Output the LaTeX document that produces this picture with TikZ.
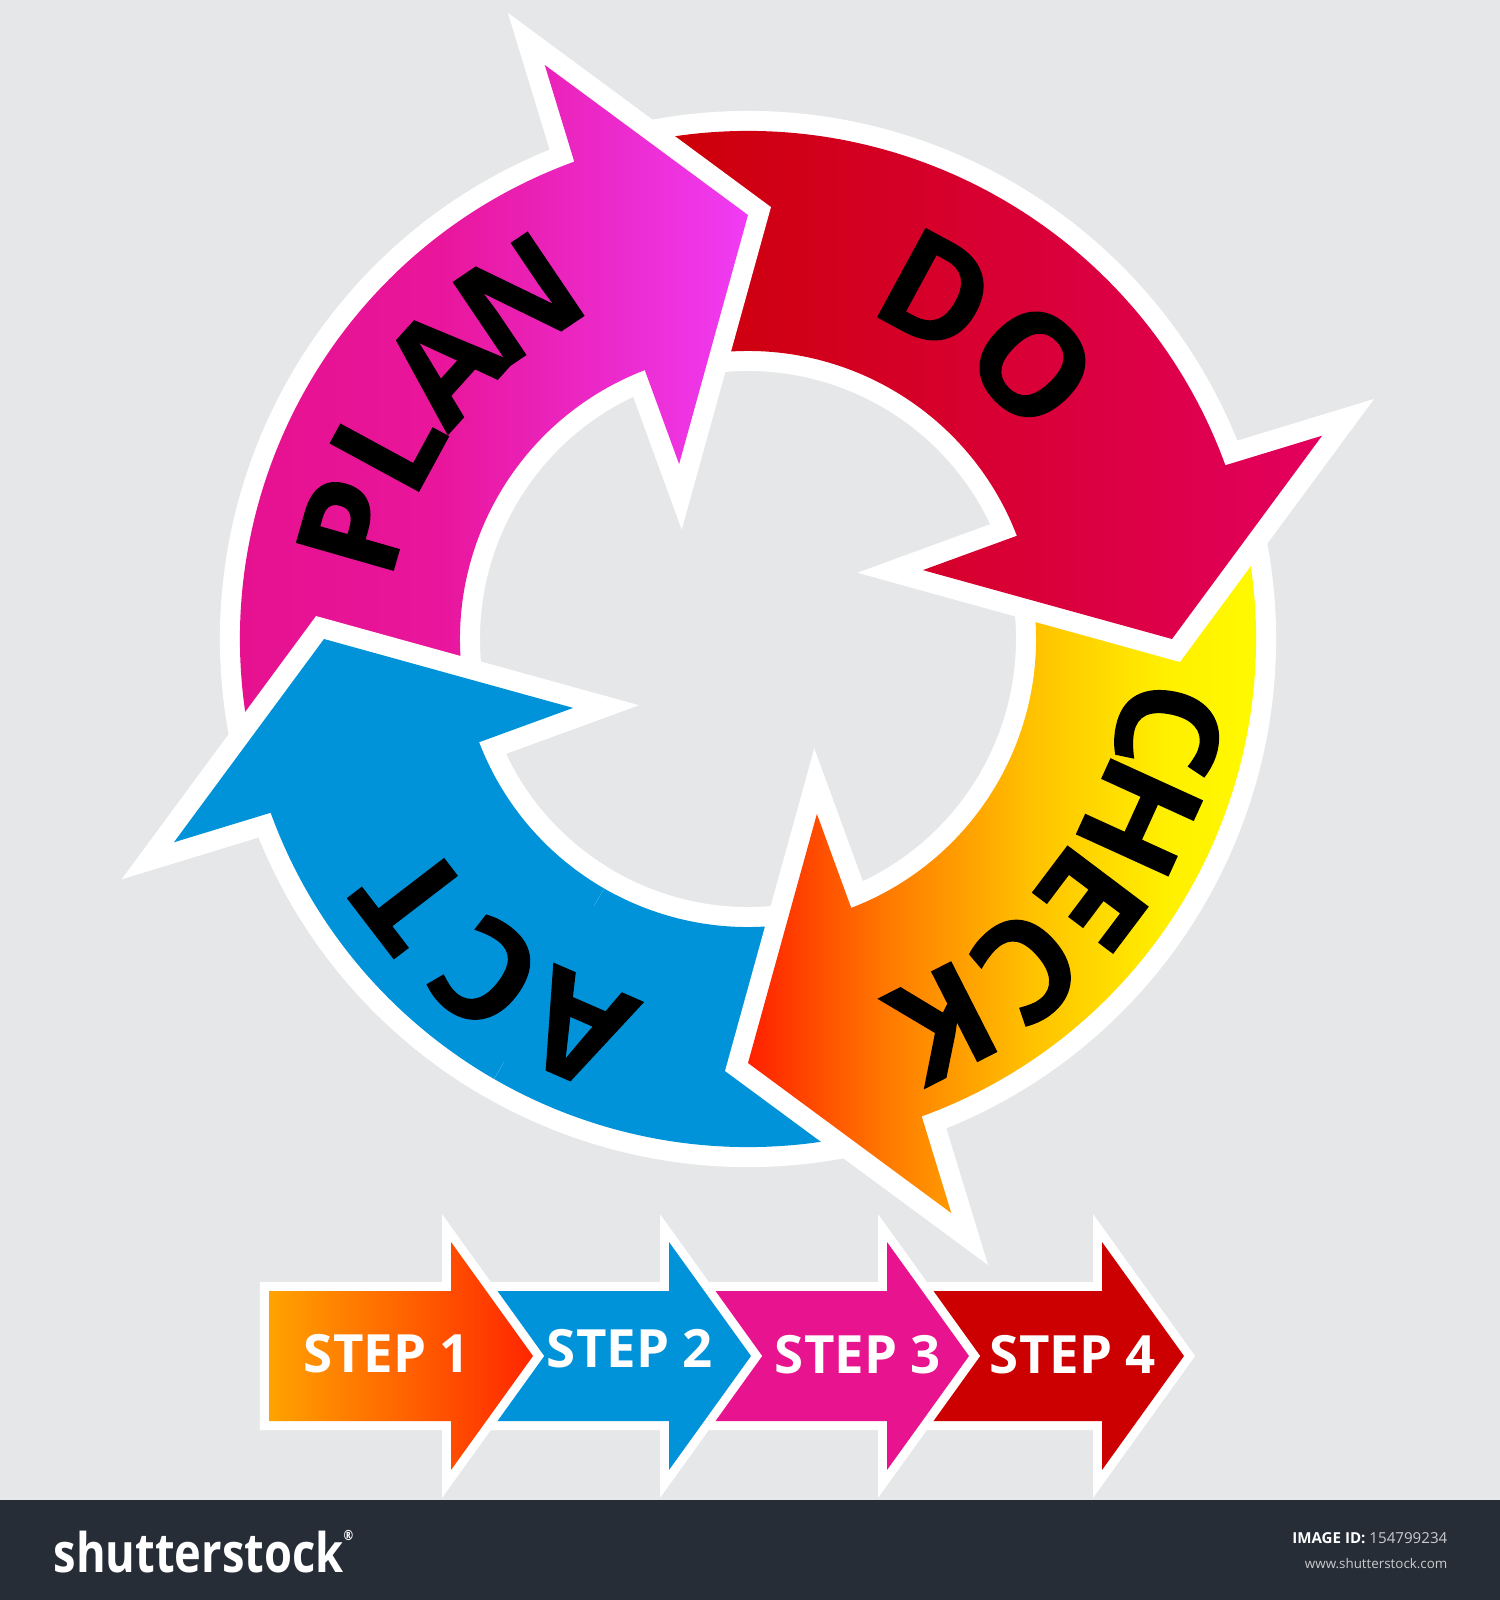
\documentclass[tikz,border=0pt]{standalone}
\usepackage{fontspec}
\setmainfont{Open Sans}
\newfontfamily\ringfam{Open Sans}[BoldFeatures={FakeBold=1}]
\definecolor{backgray}{HTML}{E6E7E8}
\definecolor{footgray}{HTML}{272D37}
\definecolor{footlight}{HTML}{C9CBCE}
\definecolor{planleft}{HTML}{E5108C}
\definecolor{planmid}{HTML}{E9169C}
\definecolor{planhi}{HTML}{EC2DD2}
\definecolor{planright}{HTML}{F03CF5}
\definecolor{doleft}{HTML}{CB0000}
\definecolor{doright}{HTML}{E3005F}
\definecolor{checkleft}{HTML}{FF2000}
\definecolor{checkorange}{HTML}{FF7A00}
\definecolor{checkmid}{HTML}{FFC000}
\definecolor{checkhi}{HTML}{FFF000}
\definecolor{checkright}{HTML}{FFFF00}
\definecolor{actblue}{HTML}{0093D9}
\definecolor{stepleft}{HTML}{FFA300}
\definecolor{stepright}{HTML}{FF2600}
\definecolor{stepmag}{HTML}{E8138E}
\definecolor{stepred}{HTML}{CC0000}
\pgfdeclarehorizontalshading{planshade}{100bp}{color(0bp)=(planleft); color(25bp)=(planleft);
  color(47.5bp)=(planmid); color(65bp)=(planhi); color(75bp)=(planright); color(100bp)=(planright)}
\pgfdeclarehorizontalshading{checkshade}{100bp}{color(0bp)=(checkleft); color(25bp)=(checkleft);
  color(37.5bp)=(checkorange); color(50bp)=(checkmid); color(62.5bp)=(checkhi); color(75bp)=(checkright); color(100bp)=(checkright)}
\newcommand{\ringfont}{\fontsize{40}{40}\selectfont\ringfam\bfseries}
\newcommand{\stepfont}{\fontsize{15}{15}\selectfont\bfseries}

\begin{document}
\begin{tikzpicture}
  [x=0.01cm,y=0.01cm,
   rim/.style={preaction={draw=white,line width=0.4cm,line join=miter}},
   steprim/.style={preaction={draw=white,line width=0.18cm,line join=miter}},
   ringarrow/.style={insert path={(#1+105:508)
     arc[start angle=#1+105,end angle=#1+20,radius=508]
     -- (#1+19.5:609) -- (#1:424) -- (#1+21.5:188) -- (#1+21:288)
     arc[start angle=#1+21,end angle=#1+103,radius=288] -- cycle}},
   steparrow/.style 2 args={insert path={(#1,-1291) -- (#2,-1291) -- (#2,-1242)
     -- ++(82,-114) -- (#2,-1470) -- (#2,-1421) -- (#1,-1421) -- cycle}},
   ringlab/.style={font=\ringfont,anchor=base,inner sep=0pt},
   steplab/.style={font=\stepfont,text=white,inner sep=0pt}]
  \useasboundingbox (0,0) rectangle (1500,-1600);
  \fill[backgray] (0,0) rectangle (1500,-1600);
  \fill[footgray] (0,-1500) rectangle (1500,-1600);

  \begin{scope}[shift={(748,-639)}]
    \fill[rim,actblue,ringarrow=180];
    \shade[rim,shading=checkshade,ringarrow=-90];
    \shade[rim,left color=doleft,right color=doright,ringarrow=0];
    \shade[rim,shading=planshade,ringarrow=90];
    \begin{scope}
      \clip (0,0) -- (150:800) -- (195:800) -- (240:800) -- cycle;
      \fill[rim,actblue,ringarrow=180];
    \end{scope}

    \foreach \ch/\a [count=\i] in {P/164,L/151.5,A/138,N/124}
      \node[ringlab,rotate=\a-90] (plan\i) at (\a:360) {\ch};
    \foreach \ch/\a [count=\i] in {D/61.5,O/44}
      \node[ringlab,rotate=\a-90] (do\i) at (\a:345) {\ch};
    \foreach \ch/\a [count=\i] in {C/-12,H/-24.5,E/-37,C/-49.5,K/-63}
      \node[ringlab,rotate=\a-90] (check\i) at (\a:380) {\ch};
    \foreach \ch/\a [count=\i] in {A/246.5,C/232,T/217.5}
      \node[ringlab,rotate=\a-90] (act\i) at (\a:375) {\ch};
  \end{scope}

  \fill[steprim,stepred,steparrow={902}{1102}];
  \fill[steprim,stepmag,steparrow={684}{887}];
  \fill[steprim,actblue,steparrow={466}{669}];
  \shade[steprim,left color=stepleft,right color=stepright,steparrow={269}{451}];

  \foreach \t/\x/\y [count=\i] in {STEP 1/387/1354,STEP 2/630/1349,STEP 3/858/1355,STEP 4/1073/1355}
    \node[steplab] (step\i) at (\x,-\y) {\t};

  \node[anchor=base west,inner sep=0pt,text=white,font=\fontsize{15.5}{15.5}\selectfont\bfseries,xscale=0.83] (logo) at (53,-1572) {shutterstock\raisebox{1.05ex}{\fontsize{4}{4}\selectfont ®}};
  \node[anchor=base east,inner sep=0pt,text=white,font=\fontsize{4.3}{4.3}\selectfont] (imgid) at (1448,-1543) {\textbf{IMAGE ID:} {\color{footlight}154799234}};
  \node[anchor=base east,inner sep=0pt,text=footlight,font=\fontsize{3.8}{3.8}\selectfont] (web) at (1448,-1568) {www.shutterstock.com};
\end{tikzpicture}
\end{document}
